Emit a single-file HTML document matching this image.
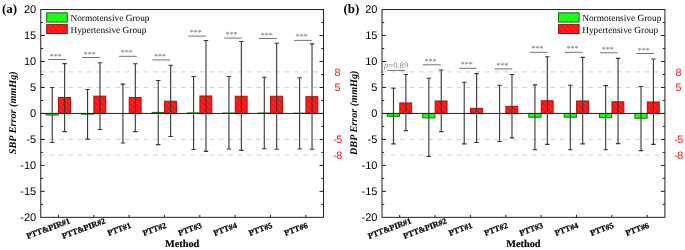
<!DOCTYPE html>
<html><head><meta charset="utf-8"><title>BP Error</title>
<style>html,body{margin:0;padding:0;background:#fff}svg{display:block}</style></head>
<body><svg width="685" height="250" viewBox="0 0 685 250" text-rendering="geometricPrecision">
<defs>
<pattern id="hr" width="4" height="4" patternUnits="userSpaceOnUse" patternTransform="rotate(-45)"><rect width="4" height="4" fill="#fa1111"/><rect width="1.3" height="4" fill="#ff2822"/></pattern>
<pattern id="hg" width="4" height="4" patternUnits="userSpaceOnUse" patternTransform="rotate(45)"><rect width="4" height="4" fill="#15fa15"/><rect width="1.3" height="4" fill="#2aff26"/></pattern>
</defs>
<rect width="685" height="250" fill="#fff"/>
<line x1="40.25" x2="323.50" y1="71.89" y2="71.89" stroke="#d2d2d2" stroke-width="1" stroke-dasharray="4.5 4.9"/>
<line x1="40.25" x2="323.50" y1="87.47" y2="87.47" stroke="#d2d2d2" stroke-width="1" stroke-dasharray="4.5 4.9"/>
<line x1="40.25" x2="323.50" y1="139.43" y2="139.43" stroke="#d2d2d2" stroke-width="1" stroke-dasharray="4.5 4.9"/>
<line x1="40.25" x2="323.50" y1="155.01" y2="155.01" stroke="#d2d2d2" stroke-width="1" stroke-dasharray="4.5 4.9"/>
<rect x="46.12" y="113.45" width="12.20" height="1.56" fill="url(#hg)" stroke="#187018" stroke-width="1"/>
<rect x="58.52" y="97.55" width="11.90" height="15.90" fill="url(#hr)" stroke="#a81212" stroke-width="1"/>
<path d="M52.22 87.47V142.54M50.02 87.47h4.4M50.02 142.54h4.4" stroke="#363636" stroke-width="1.1" fill="none"/>
<path d="M64.62 63.58V131.63M62.42 63.58h4.4M62.42 131.63h4.4" stroke="#363636" stroke-width="1.1" fill="none"/>
<line x1="48.20" x2="65.90" y1="59.50" y2="59.50" stroke="#747474" stroke-width="1"/>
<text x="55.85" y="58.50" font-family="Liberation Serif, serif" font-size="8" fill="#747474" text-anchor="middle">***</text>
<rect x="81.47" y="113.45" width="12.20" height="0.73" fill="url(#hg)" stroke="#187018" stroke-width="1"/>
<rect x="93.87" y="96.15" width="11.90" height="17.30" fill="url(#hr)" stroke="#a81212" stroke-width="1"/>
<path d="M87.57 89.55V139.17M85.37 89.55h4.4M85.37 139.17h4.4" stroke="#363636" stroke-width="1.1" fill="none"/>
<path d="M99.97 62.75V129.55M97.77 62.75h4.4M97.77 129.55h4.4" stroke="#363636" stroke-width="1.1" fill="none"/>
<line x1="82.10" x2="99.80" y1="57.50" y2="57.50" stroke="#747474" stroke-width="1"/>
<text x="89.75" y="56.50" font-family="Liberation Serif, serif" font-size="8" fill="#747474" text-anchor="middle">***</text>
<rect x="129.21" y="97.55" width="11.90" height="15.90" fill="url(#hr)" stroke="#a81212" stroke-width="1"/>
<path d="M122.91 84.10V143.06M120.71 84.10h4.4M120.71 143.06h4.4" stroke="#363636" stroke-width="1.1" fill="none"/>
<path d="M135.31 63.68V131.63M133.11 63.68h4.4M133.11 131.63h4.4" stroke="#363636" stroke-width="1.1" fill="none"/>
<line x1="119.00" x2="136.70" y1="56.30" y2="56.30" stroke="#747474" stroke-width="1"/>
<text x="126.65" y="55.30" font-family="Liberation Serif, serif" font-size="8" fill="#747474" text-anchor="middle">***</text>
<rect x="152.15" y="112.41" width="12.20" height="1.04" fill="url(#hg)" stroke="#187018" stroke-width="1"/>
<rect x="164.55" y="101.19" width="11.90" height="12.26" fill="url(#hr)" stroke="#a81212" stroke-width="1"/>
<path d="M158.25 80.46V144.62M156.05 80.46h4.4M156.05 144.62h4.4" stroke="#363636" stroke-width="1.1" fill="none"/>
<path d="M170.65 65.29V136.57M168.45 65.29h4.4M168.45 136.57h4.4" stroke="#363636" stroke-width="1.1" fill="none"/>
<line x1="152.40" x2="170.10" y1="59.90" y2="59.90" stroke="#747474" stroke-width="1"/>
<text x="160.05" y="58.90" font-family="Liberation Serif, serif" font-size="8" fill="#747474" text-anchor="middle">***</text>
<rect x="187.50" y="112.93" width="12.20" height="0.52" fill="url(#hg)" stroke="#187018" stroke-width="1"/>
<rect x="199.90" y="95.99" width="11.90" height="17.46" fill="url(#hr)" stroke="#a81212" stroke-width="1"/>
<path d="M193.60 76.57V149.56M191.40 76.57h4.4M191.40 149.56h4.4" stroke="#363636" stroke-width="1.1" fill="none"/>
<path d="M206.00 40.56V151.37M203.80 40.56h4.4M203.80 151.37h4.4" stroke="#363636" stroke-width="1.1" fill="none"/>
<line x1="188.20" x2="205.90" y1="36.10" y2="36.10" stroke="#747474" stroke-width="1"/>
<text x="195.85" y="35.10" font-family="Liberation Serif, serif" font-size="8" fill="#747474" text-anchor="middle">***</text>
<rect x="222.84" y="113.03" width="12.20" height="0.42" fill="url(#hg)" stroke="#187018" stroke-width="1"/>
<rect x="235.24" y="96.25" width="11.90" height="17.20" fill="url(#hr)" stroke="#a81212" stroke-width="1"/>
<path d="M228.94 76.57V149.04M226.74 76.57h4.4M226.74 149.04h4.4" stroke="#363636" stroke-width="1.1" fill="none"/>
<path d="M241.34 41.55V150.33M239.14 41.55h4.4M239.14 150.33h4.4" stroke="#363636" stroke-width="1.1" fill="none"/>
<line x1="223.90" x2="241.60" y1="38.10" y2="38.10" stroke="#747474" stroke-width="1"/>
<text x="231.55" y="37.10" font-family="Liberation Serif, serif" font-size="8" fill="#747474" text-anchor="middle">***</text>
<rect x="258.18" y="113.03" width="12.20" height="0.42" fill="url(#hg)" stroke="#187018" stroke-width="1"/>
<rect x="270.58" y="96.25" width="11.90" height="17.20" fill="url(#hr)" stroke="#a81212" stroke-width="1"/>
<path d="M264.28 77.19V148.78M262.08 77.19h4.4M262.08 148.78h4.4" stroke="#363636" stroke-width="1.1" fill="none"/>
<path d="M276.68 43.32V149.30M274.48 43.32h4.4M274.48 149.30h4.4" stroke="#363636" stroke-width="1.1" fill="none"/>
<line x1="259.20" x2="276.90" y1="38.50" y2="38.50" stroke="#747474" stroke-width="1"/>
<text x="266.85" y="37.50" font-family="Liberation Serif, serif" font-size="8" fill="#747474" text-anchor="middle">***</text>
<rect x="293.53" y="113.19" width="12.20" height="0.26" fill="url(#hg)" stroke="#187018" stroke-width="1"/>
<rect x="305.93" y="96.67" width="11.90" height="16.78" fill="url(#hr)" stroke="#a81212" stroke-width="1"/>
<path d="M299.63 77.76V149.04M297.43 77.76h4.4M297.43 149.04h4.4" stroke="#363636" stroke-width="1.1" fill="none"/>
<path d="M312.03 43.84V149.30M309.83 43.84h4.4M309.83 149.30h4.4" stroke="#363636" stroke-width="1.1" fill="none"/>
<line x1="294.10" x2="311.80" y1="40.40" y2="40.40" stroke="#747474" stroke-width="1"/>
<text x="301.75" y="39.40" font-family="Liberation Serif, serif" font-size="8" fill="#747474" text-anchor="middle">***</text>
<line x1="40.75" x2="323.50" y1="113.45" y2="113.45" stroke="#202020" stroke-width="1"/>
<rect x="40.75" y="9.55" width="282.75" height="207.80" fill="none" stroke="#202020" stroke-width="1"/>
<path d="M40.75 22.54h2.2M323.50 22.54h-2.2M40.75 35.52h4.0M323.50 35.52h-4.0M40.75 48.51h2.2M323.50 48.51h-2.2M40.75 61.50h4.0M323.50 61.50h-4.0M40.75 74.49h2.2M323.50 74.49h-2.2M40.75 87.47h4.0M323.50 87.47h-4.0M40.75 100.46h2.2M323.50 100.46h-2.2M40.75 113.45h4.0M323.50 113.45h-4.0M40.75 126.44h2.2M323.50 126.44h-2.2M40.75 139.43h4.0M323.50 139.43h-4.0M40.75 152.41h2.2M323.50 152.41h-2.2M40.75 165.40h4.0M323.50 165.40h-4.0M40.75 178.39h2.2M323.50 178.39h-2.2M40.75 191.38h4.0M323.50 191.38h-4.0M40.75 204.36h2.2M323.50 204.36h-2.2M58.42 217.35v-2.4M93.77 217.35v-2.4M129.11 217.35v-2.4M164.45 217.35v-2.4M199.80 217.35v-2.4M235.14 217.35v-2.4M270.48 217.35v-2.4M305.83 217.35v-2.4" stroke="#202020" stroke-width="1" fill="none"/>
<text x="36.15" y="13.45" font-family="Liberation Sans, sans-serif" font-size="11" fill="#000" text-anchor="end">20</text>
<text x="36.15" y="39.42" font-family="Liberation Sans, sans-serif" font-size="11" fill="#000" text-anchor="end">15</text>
<text x="36.15" y="65.40" font-family="Liberation Sans, sans-serif" font-size="11" fill="#000" text-anchor="end">10</text>
<text x="36.15" y="91.38" font-family="Liberation Sans, sans-serif" font-size="11" fill="#000" text-anchor="end">5</text>
<text x="36.15" y="117.35" font-family="Liberation Sans, sans-serif" font-size="11" fill="#000" text-anchor="end">0</text>
<text x="36.15" y="143.33" font-family="Liberation Sans, sans-serif" font-size="11" fill="#000" text-anchor="end">-5</text>
<text x="36.15" y="169.30" font-family="Liberation Sans, sans-serif" font-size="11" fill="#000" text-anchor="end">-10</text>
<text x="36.15" y="195.28" font-family="Liberation Sans, sans-serif" font-size="11" fill="#000" text-anchor="end">-15</text>
<text x="36.15" y="221.25" font-family="Liberation Sans, sans-serif" font-size="11" fill="#000" text-anchor="end">-20</text>
<text x="337.40" y="75.69" font-family="Liberation Sans, sans-serif" font-size="10.8" fill="#f02222" text-anchor="middle">8</text>
<text x="337.40" y="91.27" font-family="Liberation Sans, sans-serif" font-size="10.8" fill="#f02222" text-anchor="middle">5</text>
<text x="337.40" y="143.23" font-family="Liberation Sans, sans-serif" font-size="10.8" fill="#f02222" text-anchor="middle" letter-spacing="-0.6">-5</text>
<text x="337.40" y="158.81" font-family="Liberation Sans, sans-serif" font-size="10.8" fill="#f02222" text-anchor="middle" letter-spacing="-0.6">-8</text>
<text x="2.00" y="12.5" font-family="Liberation Serif, serif" font-weight="bold" font-size="13" fill="#000">(a)</text>
<text transform="translate(15.60 112.75) rotate(-90)" font-family="Liberation Serif, serif" font-weight="bold" font-style="italic" font-size="10.2" fill="#000" text-anchor="middle">SBP Error (mmHg)</text>
<text x="182.12" y="247.2" font-family="Liberation Serif, serif" font-weight="bold" font-size="10.3" fill="#000" stroke="#000" stroke-width="0.2" text-anchor="middle">Method</text>
<text transform="translate(70.62 223.00) rotate(-20.5)" font-family="Liberation Serif, serif" font-weight="bold" font-size="8.3" fill="#000" stroke="#000" stroke-width="0.22" text-anchor="end">PTT&amp;PIR#1</text>
<text transform="translate(105.97 223.00) rotate(-20.5)" font-family="Liberation Serif, serif" font-weight="bold" font-size="8.3" fill="#000" stroke="#000" stroke-width="0.22" text-anchor="end">PTT&amp;PIR#2</text>
<text transform="translate(131.61 227.50) rotate(-20.5)" font-family="Liberation Serif, serif" font-weight="bold" font-size="8.3" fill="#000" stroke="#000" stroke-width="0.22" text-anchor="end">PTT#1</text>
<text transform="translate(166.95 227.50) rotate(-20.5)" font-family="Liberation Serif, serif" font-weight="bold" font-size="8.3" fill="#000" stroke="#000" stroke-width="0.22" text-anchor="end">PTT#2</text>
<text transform="translate(202.30 227.50) rotate(-20.5)" font-family="Liberation Serif, serif" font-weight="bold" font-size="8.3" fill="#000" stroke="#000" stroke-width="0.22" text-anchor="end">PTT#3</text>
<text transform="translate(237.64 227.50) rotate(-20.5)" font-family="Liberation Serif, serif" font-weight="bold" font-size="8.3" fill="#000" stroke="#000" stroke-width="0.22" text-anchor="end">PTT#4</text>
<text transform="translate(272.98 227.50) rotate(-20.5)" font-family="Liberation Serif, serif" font-weight="bold" font-size="8.3" fill="#000" stroke="#000" stroke-width="0.22" text-anchor="end">PTT#5</text>
<text transform="translate(308.33 227.50) rotate(-20.5)" font-family="Liberation Serif, serif" font-weight="bold" font-size="8.3" fill="#000" stroke="#000" stroke-width="0.22" text-anchor="end">PTT#6</text>
<rect x="46.70" y="12.8" width="20.6" height="9.3" fill="url(#hg)" stroke="#187018" stroke-width="1"/>
<rect x="46.70" y="24.4" width="20.6" height="9.1" fill="url(#hr)" stroke="#a81212" stroke-width="1"/>
<text x="70.40" y="20.9" font-family="Liberation Serif, serif" font-size="9.35" fill="#000">Normotensive Group</text>
<text x="70.40" y="32.6" font-family="Liberation Serif, serif" font-size="9.35" fill="#000">Hypertensive Group</text>
<line x1="381.50" x2="664.90" y1="71.89" y2="71.89" stroke="#d2d2d2" stroke-width="1" stroke-dasharray="4.5 4.9"/>
<line x1="381.50" x2="664.90" y1="87.47" y2="87.47" stroke="#d2d2d2" stroke-width="1" stroke-dasharray="4.5 4.9"/>
<line x1="381.50" x2="664.90" y1="139.43" y2="139.43" stroke="#d2d2d2" stroke-width="1" stroke-dasharray="4.5 4.9"/>
<line x1="381.50" x2="664.90" y1="155.01" y2="155.01" stroke="#d2d2d2" stroke-width="1" stroke-dasharray="4.5 4.9"/>
<rect x="387.38" y="113.45" width="12.20" height="2.81" fill="url(#hg)" stroke="#187018" stroke-width="1"/>
<rect x="399.78" y="102.95" width="11.90" height="10.50" fill="url(#hr)" stroke="#a81212" stroke-width="1"/>
<path d="M393.48 88.25V143.84M391.28 88.25h4.4M391.28 143.84h4.4" stroke="#363636" stroke-width="1.1" fill="none"/>
<path d="M405.88 74.49V130.59M403.68 74.49h4.4M403.68 130.59h4.4" stroke="#363636" stroke-width="1.1" fill="none"/>
<line x1="387.20" x2="404.90" y1="70.40" y2="70.40" stroke="#747474" stroke-width="1"/>
<text x="384.00" y="68.30" font-family="Liberation Serif, serif" font-size="8.6" fill="#8c8c8c"><tspan font-style="italic">p</tspan>=0.89</text>
<rect x="422.74" y="113.45" width="12.20" height="4.42" fill="url(#hg)" stroke="#187018" stroke-width="1"/>
<rect x="435.14" y="100.98" width="11.90" height="12.47" fill="url(#hr)" stroke="#a81212" stroke-width="1"/>
<path d="M428.84 78.28V156.57M426.64 78.28h4.4M426.64 156.57h4.4" stroke="#363636" stroke-width="1.1" fill="none"/>
<path d="M441.24 70.07V131.63M439.04 70.07h4.4M439.04 131.63h4.4" stroke="#363636" stroke-width="1.1" fill="none"/>
<line x1="422.90" x2="440.60" y1="64.80" y2="64.80" stroke="#747474" stroke-width="1"/>
<text x="430.55" y="63.80" font-family="Liberation Serif, serif" font-size="8" fill="#747474" text-anchor="middle">***</text>
<rect x="470.51" y="108.35" width="11.90" height="5.10" fill="url(#hr)" stroke="#a81212" stroke-width="1"/>
<path d="M464.21 82.28V143.84M462.01 82.28h4.4M462.01 143.84h4.4" stroke="#363636" stroke-width="1.1" fill="none"/>
<path d="M476.61 73.66V142.54M474.41 73.66h4.4M474.41 142.54h4.4" stroke="#363636" stroke-width="1.1" fill="none"/>
<line x1="459.00" x2="476.70" y1="68.30" y2="68.30" stroke="#747474" stroke-width="1"/>
<text x="466.65" y="67.30" font-family="Liberation Serif, serif" font-size="8" fill="#747474" text-anchor="middle">***</text>
<rect x="505.87" y="106.38" width="11.90" height="7.07" fill="url(#hr)" stroke="#a81212" stroke-width="1"/>
<path d="M499.57 85.29V141.50M497.37 85.29h4.4M497.37 141.50h4.4" stroke="#363636" stroke-width="1.1" fill="none"/>
<path d="M511.97 74.49V137.87M509.77 74.49h4.4M509.77 137.87h4.4" stroke="#363636" stroke-width="1.1" fill="none"/>
<line x1="494.60" x2="512.30" y1="68.90" y2="68.90" stroke="#747474" stroke-width="1"/>
<text x="502.25" y="67.90" font-family="Liberation Serif, serif" font-size="8" fill="#747474" text-anchor="middle">***</text>
<rect x="528.83" y="113.45" width="12.20" height="3.79" fill="url(#hg)" stroke="#187018" stroke-width="1"/>
<rect x="541.23" y="100.77" width="11.90" height="12.68" fill="url(#hr)" stroke="#a81212" stroke-width="1"/>
<path d="M534.93 84.88V149.81M532.73 84.88h4.4M532.73 149.81h4.4" stroke="#363636" stroke-width="1.1" fill="none"/>
<path d="M547.33 56.82V144.41M545.13 56.82h4.4M545.13 144.41h4.4" stroke="#363636" stroke-width="1.1" fill="none"/>
<line x1="529.70" x2="547.40" y1="52.30" y2="52.30" stroke="#747474" stroke-width="1"/>
<text x="537.35" y="51.30" font-family="Liberation Serif, serif" font-size="8" fill="#747474" text-anchor="middle">***</text>
<rect x="564.19" y="113.45" width="12.20" height="3.79" fill="url(#hg)" stroke="#187018" stroke-width="1"/>
<rect x="576.59" y="100.98" width="11.90" height="12.47" fill="url(#hr)" stroke="#a81212" stroke-width="1"/>
<path d="M570.29 85.29V149.81M568.09 85.29h4.4M568.09 149.81h4.4" stroke="#363636" stroke-width="1.1" fill="none"/>
<path d="M582.69 57.34V143.84M580.49 57.34h4.4M580.49 143.84h4.4" stroke="#363636" stroke-width="1.1" fill="none"/>
<line x1="564.90" x2="582.60" y1="52.30" y2="52.30" stroke="#747474" stroke-width="1"/>
<text x="572.55" y="51.30" font-family="Liberation Serif, serif" font-size="8" fill="#747474" text-anchor="middle">***</text>
<rect x="599.56" y="113.45" width="12.20" height="4.16" fill="url(#hg)" stroke="#187018" stroke-width="1"/>
<rect x="611.96" y="101.76" width="11.90" height="11.69" fill="url(#hr)" stroke="#a81212" stroke-width="1"/>
<path d="M605.66 85.66V149.81M603.46 85.66h4.4M603.46 149.81h4.4" stroke="#363636" stroke-width="1.1" fill="none"/>
<path d="M618.06 58.38V143.58M615.86 58.38h4.4M615.86 143.58h4.4" stroke="#363636" stroke-width="1.1" fill="none"/>
<line x1="600.00" x2="617.70" y1="52.80" y2="52.80" stroke="#747474" stroke-width="1"/>
<text x="607.65" y="51.80" font-family="Liberation Serif, serif" font-size="8" fill="#747474" text-anchor="middle">***</text>
<rect x="634.92" y="113.45" width="12.20" height="4.78" fill="url(#hg)" stroke="#187018" stroke-width="1"/>
<rect x="647.32" y="101.97" width="11.90" height="11.48" fill="url(#hr)" stroke="#a81212" stroke-width="1"/>
<path d="M641.02 86.44V150.59M638.82 86.44h4.4M638.82 150.59h4.4" stroke="#363636" stroke-width="1.1" fill="none"/>
<path d="M653.42 59.06V144.41M651.22 59.06h4.4M651.22 144.41h4.4" stroke="#363636" stroke-width="1.1" fill="none"/>
<line x1="636.20" x2="653.90" y1="53.50" y2="53.50" stroke="#747474" stroke-width="1"/>
<text x="643.85" y="52.50" font-family="Liberation Serif, serif" font-size="8" fill="#747474" text-anchor="middle">***</text>
<line x1="382.00" x2="664.90" y1="113.45" y2="113.45" stroke="#202020" stroke-width="1"/>
<rect x="382.00" y="9.55" width="282.90" height="207.80" fill="none" stroke="#202020" stroke-width="1"/>
<path d="M382.00 22.54h2.2M664.90 22.54h-2.2M382.00 35.52h4.0M664.90 35.52h-4.0M382.00 48.51h2.2M664.90 48.51h-2.2M382.00 61.50h4.0M664.90 61.50h-4.0M382.00 74.49h2.2M664.90 74.49h-2.2M382.00 87.47h4.0M664.90 87.47h-4.0M382.00 100.46h2.2M664.90 100.46h-2.2M382.00 113.45h4.0M664.90 113.45h-4.0M382.00 126.44h2.2M664.90 126.44h-2.2M382.00 139.43h4.0M664.90 139.43h-4.0M382.00 152.41h2.2M664.90 152.41h-2.2M382.00 165.40h4.0M664.90 165.40h-4.0M382.00 178.39h2.2M664.90 178.39h-2.2M382.00 191.38h4.0M664.90 191.38h-4.0M382.00 204.36h2.2M664.90 204.36h-2.2M399.68 217.35v-2.4M435.04 217.35v-2.4M470.41 217.35v-2.4M505.77 217.35v-2.4M541.13 217.35v-2.4M576.49 217.35v-2.4M611.86 217.35v-2.4M647.22 217.35v-2.4" stroke="#202020" stroke-width="1" fill="none"/>
<text x="377.40" y="13.45" font-family="Liberation Sans, sans-serif" font-size="11" fill="#000" text-anchor="end">20</text>
<text x="377.40" y="39.42" font-family="Liberation Sans, sans-serif" font-size="11" fill="#000" text-anchor="end">15</text>
<text x="377.40" y="65.40" font-family="Liberation Sans, sans-serif" font-size="11" fill="#000" text-anchor="end">10</text>
<text x="377.40" y="91.38" font-family="Liberation Sans, sans-serif" font-size="11" fill="#000" text-anchor="end">5</text>
<text x="377.40" y="117.35" font-family="Liberation Sans, sans-serif" font-size="11" fill="#000" text-anchor="end">0</text>
<text x="377.40" y="143.33" font-family="Liberation Sans, sans-serif" font-size="11" fill="#000" text-anchor="end">-5</text>
<text x="377.40" y="169.30" font-family="Liberation Sans, sans-serif" font-size="11" fill="#000" text-anchor="end">-10</text>
<text x="377.40" y="195.28" font-family="Liberation Sans, sans-serif" font-size="11" fill="#000" text-anchor="end">-15</text>
<text x="377.40" y="221.25" font-family="Liberation Sans, sans-serif" font-size="11" fill="#000" text-anchor="end">-20</text>
<text x="678.50" y="75.69" font-family="Liberation Sans, sans-serif" font-size="10.8" fill="#f02222" text-anchor="middle">8</text>
<text x="678.50" y="91.27" font-family="Liberation Sans, sans-serif" font-size="10.8" fill="#f02222" text-anchor="middle">5</text>
<text x="678.50" y="143.23" font-family="Liberation Sans, sans-serif" font-size="10.8" fill="#f02222" text-anchor="middle" letter-spacing="-0.6">-5</text>
<text x="678.50" y="158.81" font-family="Liberation Sans, sans-serif" font-size="10.8" fill="#f02222" text-anchor="middle" letter-spacing="-0.6">-8</text>
<text x="343.40" y="12.5" font-family="Liberation Serif, serif" font-weight="bold" font-size="13" fill="#000">(b)</text>
<text transform="translate(357.10 112.75) rotate(-90)" font-family="Liberation Serif, serif" font-weight="bold" font-style="italic" font-size="10.2" fill="#000" text-anchor="middle">DBP Error (mmHg)</text>
<text x="523.45" y="247.2" font-family="Liberation Serif, serif" font-weight="bold" font-size="10.3" fill="#000" stroke="#000" stroke-width="0.2" text-anchor="middle">Method</text>
<text transform="translate(411.88 223.00) rotate(-20.5)" font-family="Liberation Serif, serif" font-weight="bold" font-size="8.3" fill="#000" stroke="#000" stroke-width="0.22" text-anchor="end">PTT&amp;PIR#1</text>
<text transform="translate(447.24 223.00) rotate(-20.5)" font-family="Liberation Serif, serif" font-weight="bold" font-size="8.3" fill="#000" stroke="#000" stroke-width="0.22" text-anchor="end">PTT&amp;PIR#2</text>
<text transform="translate(472.91 227.50) rotate(-20.5)" font-family="Liberation Serif, serif" font-weight="bold" font-size="8.3" fill="#000" stroke="#000" stroke-width="0.22" text-anchor="end">PTT#1</text>
<text transform="translate(508.27 227.50) rotate(-20.5)" font-family="Liberation Serif, serif" font-weight="bold" font-size="8.3" fill="#000" stroke="#000" stroke-width="0.22" text-anchor="end">PTT#2</text>
<text transform="translate(543.63 227.50) rotate(-20.5)" font-family="Liberation Serif, serif" font-weight="bold" font-size="8.3" fill="#000" stroke="#000" stroke-width="0.22" text-anchor="end">PTT#3</text>
<text transform="translate(578.99 227.50) rotate(-20.5)" font-family="Liberation Serif, serif" font-weight="bold" font-size="8.3" fill="#000" stroke="#000" stroke-width="0.22" text-anchor="end">PTT#4</text>
<text transform="translate(614.36 227.50) rotate(-20.5)" font-family="Liberation Serif, serif" font-weight="bold" font-size="8.3" fill="#000" stroke="#000" stroke-width="0.22" text-anchor="end">PTT#5</text>
<text transform="translate(649.72 227.50) rotate(-20.5)" font-family="Liberation Serif, serif" font-weight="bold" font-size="8.3" fill="#000" stroke="#000" stroke-width="0.22" text-anchor="end">PTT#6</text>
<rect x="558.50" y="12.8" width="20.6" height="9.3" fill="url(#hg)" stroke="#187018" stroke-width="1"/>
<rect x="558.50" y="24.4" width="20.6" height="9.1" fill="url(#hr)" stroke="#a81212" stroke-width="1"/>
<text x="582.20" y="20.9" font-family="Liberation Serif, serif" font-size="9.35" fill="#000">Normotensive Group</text>
<text x="582.20" y="32.6" font-family="Liberation Serif, serif" font-size="9.35" fill="#000">Hypertensive Group</text>
</svg></body></html>
